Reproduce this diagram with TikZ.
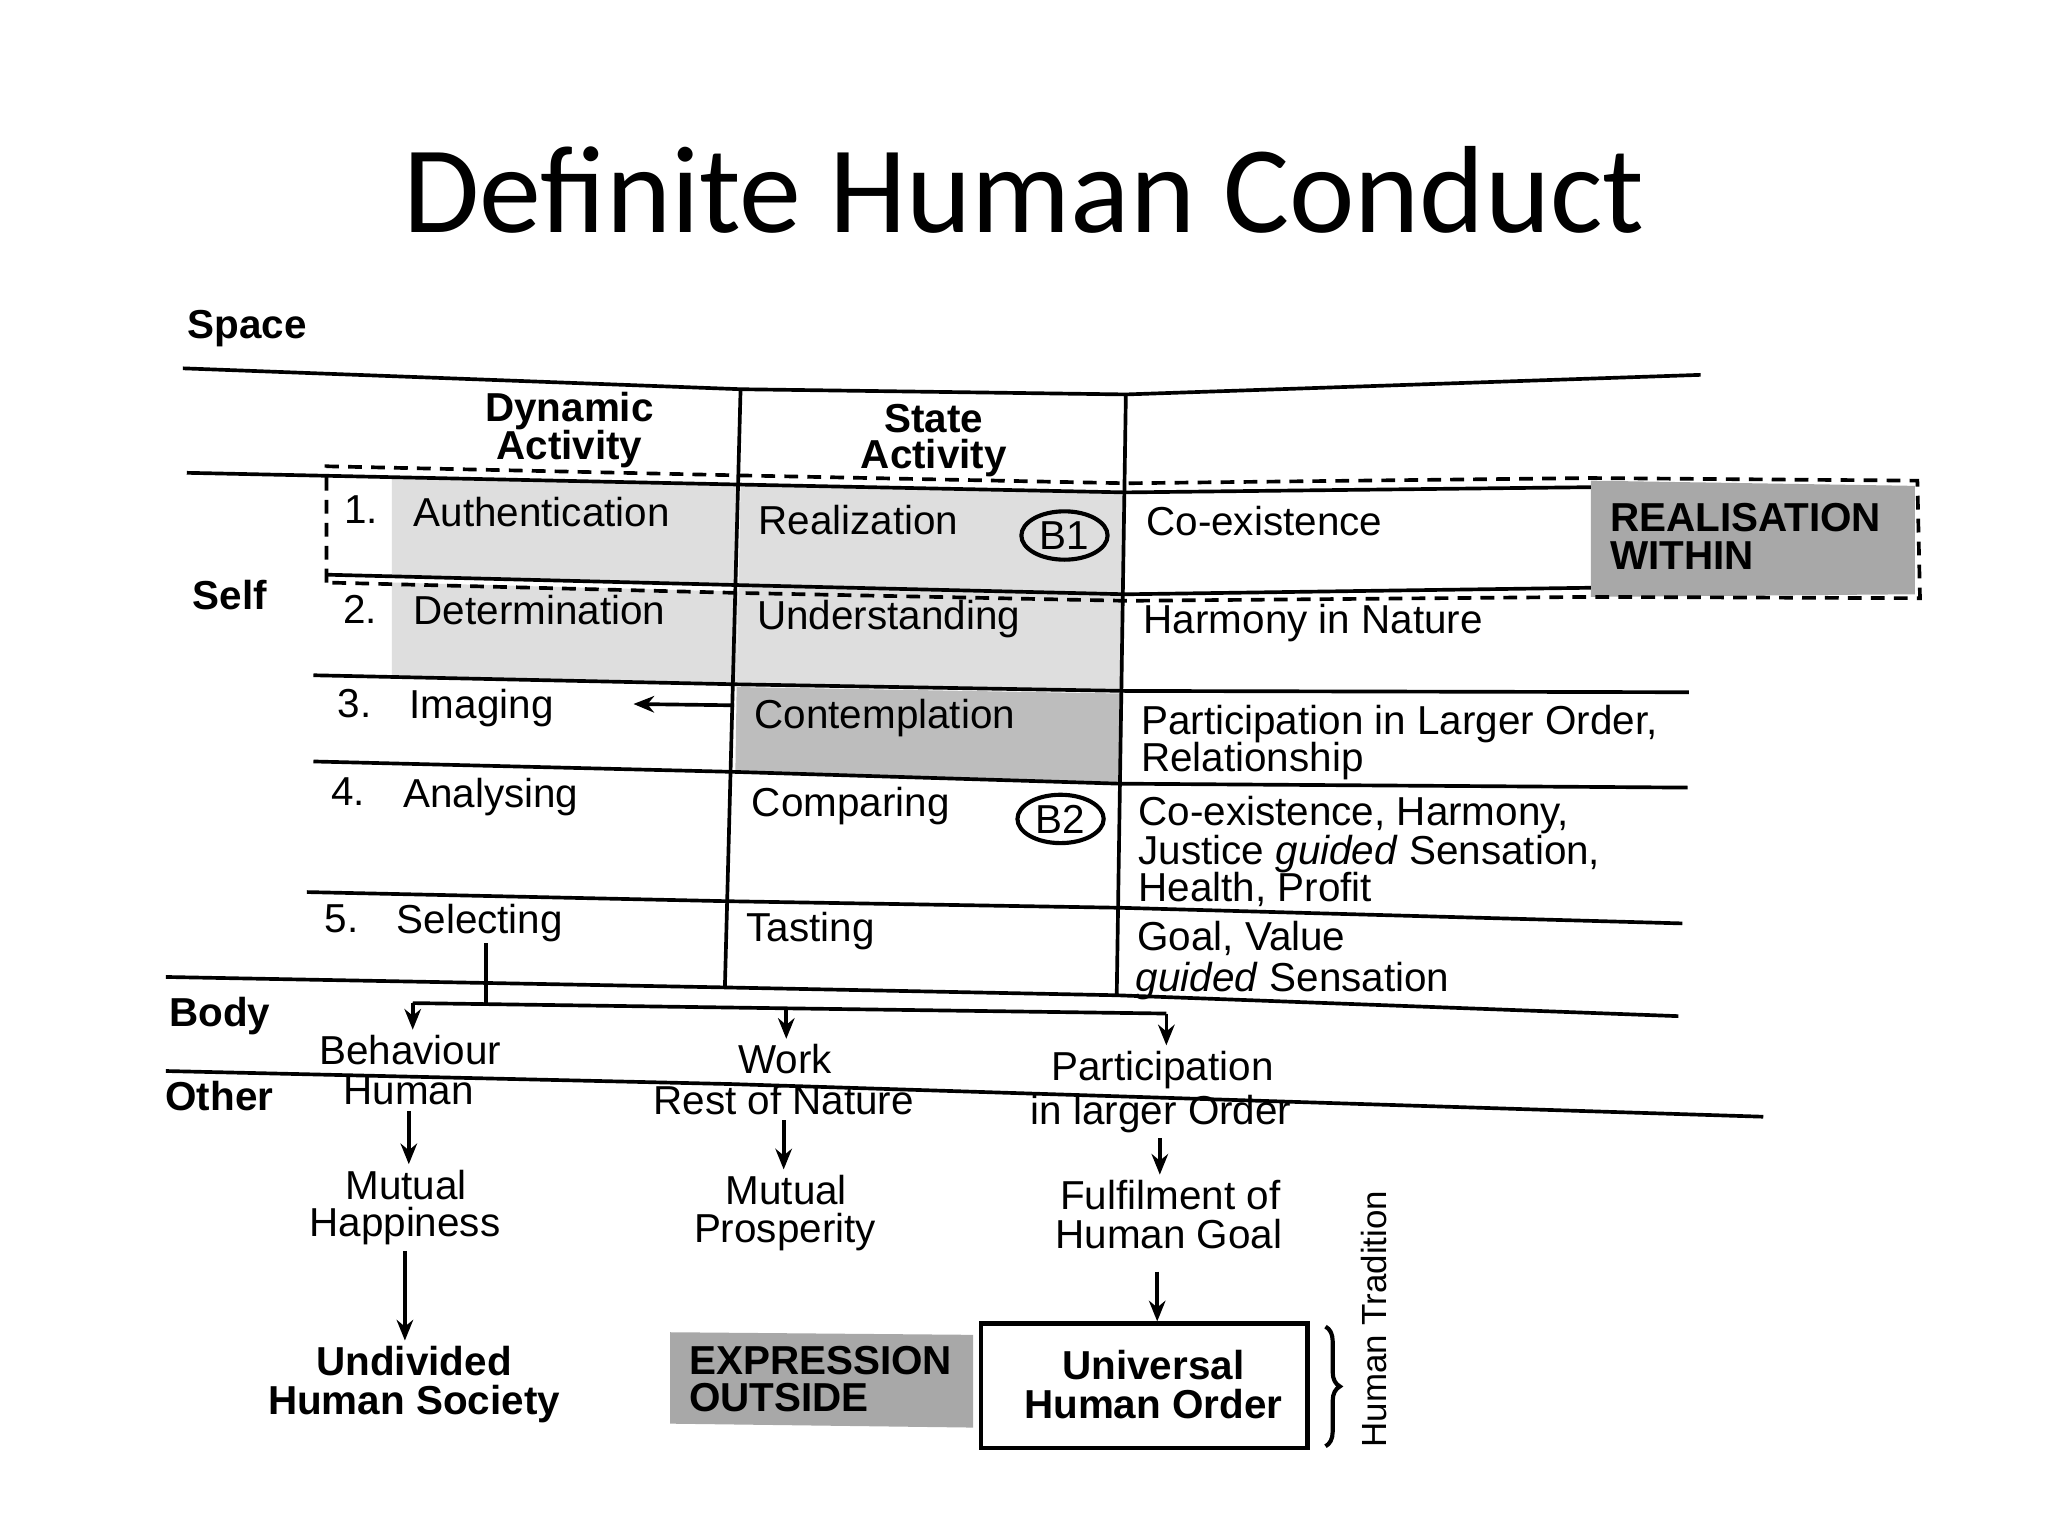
\documentclass[tikz,border=0pt]{standalone}
\usepackage{fontspec}
\setmainfont{Liberation Sans}
\newfontfamily\titlefont{Carlito}
\usetikzlibrary{arrows.meta,shapes.geometric,decorations.pathreplacing}
\tikzset{
  ln/.style={line width=0.8pt},
  txt/.style={font=\fontsize{8.8}{9}\selectfont, inner sep=0pt, anchor=base west},
  hd/.style={font=\bfseries\fontsize{8.8}{9}\selectfont, inner sep=0pt},
  tr/.style={font=\fontsize{8.8}{9}\selectfont, inner xsep=0pt, inner ysep=1pt, anchor=base},
  trb/.style={tr, font=\bfseries\fontsize{8.8}{9}\selectfont},
  arr/.style={line width=0.8pt, -{Stealth[length=4.5pt,width=3.6pt]}},
  light/.style={fill=black!13},
  mid/.style={fill=black!26},
  dark/.style={fill=black!34},
  dsh/.style={line width=0.8pt, dash pattern=on 3pt off 2pt},
  bub/.style={draw, ellipse, line width=0.9pt, inner sep=0pt, minimum width=0.66cm, minimum height=0.37cm, font=\fontsize{8.8}{9}\selectfont},
}
\begin{document}
\begin{tikzpicture}[x=0.01cm, y=-0.01cm]
\useasboundingbox[fill=white] (0,0) rectangle (1568,1176);

% ---------- shading ----------
\fill[light] (300,366) -- (565,372) -- (565,449) -- (300,442) -- cycle;
\fill[light] (300,446) -- (565,453) -- (564,524) -- (300,519) -- cycle;
\fill[light] (567,372) -- (862,377) -- (860,529) -- (564,524) -- cycle;
\fill[mid]   (564,526) -- (860,531) -- (858,600) -- (563,592) -- cycle;
\fill[dark]  (1218,368) -- (1466,372) -- (1466,455) -- (1218,457) -- cycle;
\fill[dark]  (513,1020) -- (745,1022) -- (745,1093) -- (513,1090) -- cycle;

% ---------- table lines ----------
\draw[ln] (140,282) -- (567,298) -- (862,302) -- (1302,287);
\draw[ln] (567,298) -- (555,756);
\draw[ln] (862,302) -- (855,762);
\draw[ln] (143,362) -- (567,371) -- (862,377) -- (1218,373);
\draw[ln] (250,440) -- (567,448) -- (862,455) -- (1218,450);
\draw[ln] (240,517) -- (567,524) -- (862,529) -- (1293,530);
\draw[ln] (240,583) -- (563,591) -- (857,600) -- (1292,603);
\draw[ln] (235,683) -- (557,690) -- (857,695) -- (1288,707);
\draw[ln] (127,748) -- (555,756) -- (855,762) -- (1285,778);
\draw[ln] (127,820) -- (560,830) -- (1350,855);

% dashed "realisation within" frame
\draw[dsh] (250,446) -- (250,357) -- (567,364) -- (862,370) -- (1218,366) -- (1468,368)
  -- (1470,458) -- (1218,457) -- (862,460) -- (567,454) -- cycle;

% ---------- title ----------
\node[anchor=base, inner sep=0pt, font=\titlefont\fontsize{27}{32}\selectfont] (title) at (784,178) {Definite Human Conduct};

% ---------- side labels and headers ----------
\node[hd, anchor=base west] (space) at (143,259) {Space};
\node[hd, anchor=base west] (self)  at (147,467) {Self};
\node[hd, anchor=base west] (body)  at (129,786) {Body};
\node[hd, anchor=base west] (other) at (126,850) {Other};
\node[hd, anchor=base] (dyn1) at (436,323) {Dynamic};
\node[hd, anchor=base] (dyn2) at (436,352) {Activity};
\node[hd, anchor=base] (st1)  at (715,331) {State};
\node[hd, anchor=base] (st2)  at (715,359) {Activity};

% ---------- dynamic column ----------
\node[txt] (n1) at (263,401) {1.};
\node[txt] (auth) at (316,403) {Authentication};
\node[txt] (n2) at (262,477) {2.};
\node[txt] (det) at (316,478) {Determination};
\node[txt] (n3) at (258,549) {3.};
\node[txt] (img) at (313,550) {Imaging};
\node[txt] (n4) at (253,617) {4.};
\node[txt] (ana) at (308,618) {Analysing};
\node[txt] (n5) at (248,714) {5.};
\node[txt] (sel) at (303,715) {Selecting};

% ---------- state column ----------
\node[txt] (real) at (580,409) {Realization};
\node[bub] (b1) at (815,410) {B1};
\node[txt] (und) at (579,482) {Understanding};
\node[txt] (cont) at (577,558) {Contemplation};
\node[txt] (comp) at (575,625) {Comparing};
\node[bub] (b2) at (812,627) {B2};
\node[txt] (tast) at (571,721) {Tasting};

% ---------- right column ----------
\node[txt] (coex) at (877,410) {Co-existence};
\node[txt] (harm) at (875,485) {Harmony in Nature};
\node[txt] (par1) at (873,562) {Participation in Larger Order,};
\node[txt] (par2) at (873,591) {Relationship};
\node[txt] (co1) at (871,632) {Co-existence, Harmony,};
\node[txt] (co2) at (871,662) {Justice \textit{guided} Sensation,};
\node[txt] (co3) at (871,690) {Health, Profit};
\node[txt] (gv1) at (870,728) {Goal, Value};
\node[txt] (gv2) at (869,759) {\textit{guided} Sensation};

\node[hd, anchor=base west] (rw1) at (1232,407) {REALISATION};
\node[hd, anchor=base west] (rw2) at (1232,436) {WITHIN};

% arrow contemplation -> imaging
\coordinate (cfrom) at (562,540);
\coordinate (cto) at (485,539);
\draw[arr] (cfrom) -- (cto);

% ---------- tree ----------
\node[tr] (beh) at (314,815) {Behaviour};
\node[tr] (hum) at (313,846) {Human};
\node[tr] (work) at (601,822) {Work};
\node[tr] (rest) at (600,853) {Rest of Nature};
\node[tr] (part) at (890,827) {Participation};
\node[tr] (larg) at (889,861) {in larger Order};
\node[tr] (mh1) at (311,918) {Mutual};
\node[tr] (mh2) at (310,947) {Happiness};
\node[tr] (mp1) at (602,922) {Mutual};
\node[tr] (mp2) at (601,951) {Prosperity};
\node[tr] (fg1) at (896,926) {Fulfilment of};
\node[tr] (fg2) at (895,956) {Human Goal};
\node[trb] (uh1) at (317,1053) {Undivided};
\node[trb] (uh2) at (317,1083) {Human Society};
\node[hd, anchor=base west] (eo1) at (527,1052) {EXPRESSION};
\node[hd, anchor=base west] (eo2) at (527,1081) {OUTSIDE};
\node[draw, line width=1pt, minimum width=2.5cm, minimum height=0.95cm, inner sep=0pt] (uho) at (876,1061) {};
\node[trb] (uo1) at (883,1056) {Universal};
\node[trb] (uo2) at (883,1086) {Human Order};
\node[rotate=90, inner sep=0pt, font=\fontsize{7.6}{8}\selectfont] (ht) at (1052,1010) {Human Tradition};

\coordinate (j0) at (372,769);
\coordinate (jL) at (316,768);
\coordinate (jM) at (602,772);
\coordinate (jR) at (893,776);
\coordinate (colR) at (888,0);
\coordinate (colG) at (886,0);

\draw[ln] (sel.south -| j0) -- (j0);
\draw[ln] (jL) -- (jM) -- (jR);
\draw[arr] (jL) -- (jL |- beh.north);
\draw[arr] (jM) -- (jM |- work.north);
\draw[arr] (jR) -- (jR |- part.north);
\draw[arr] (hum.south) -- (hum.south |- mh1.north);
\draw[arr] (mh2.south) -- (mh2.south |- uh1.north);
\draw[arr] (rest.south) -- (rest.south |- mp1.north);
\draw[arr] (colR |- larg.south) -- (colR |- fg1.north);
\draw[arr, shorten <=0.13cm] (colG |- fg2.south) -- (colG |- uho.north);

\draw[line width=0.9pt, decorate, decoration={brace, amplitude=0.11cm}]
  ([xshift=0.12cm,yshift=-0.04cm]uho.north east) -- ([xshift=0.12cm,yshift=0.03cm]uho.south east);
\end{tikzpicture}
\end{document}
